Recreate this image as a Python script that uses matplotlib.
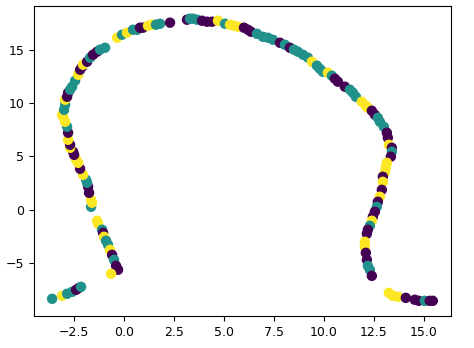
import matplotlib
matplotlib.use("Agg")
import matplotlib.pyplot as plt

# Points along the curve: x, y, class (0=purple, 1=teal, 2=yellow)
x = [
    -3.6, -3.1, -2.85, -2.6, -2.4, -2.25, -2.15,
    -1.35, -1.3, -1.1, -1.05, -1.0, -0.9, -0.8, -0.7, -0.6, -0.5, -0.4, -0.3, -0.65,
    -1.65, -1.6, -1.65, -1.75, -1.8, -1.85, -1.9, -2.05, -2.2, -2.3, -2.4, -2.5, -2.55,
    -2.7, -2.7, -2.8, -2.8, -2.85, -2.95, -3.05, -3.1, -3.0, -2.95, -2.95, -2.85, -2.8,
    -2.7, -2.6, -2.45, -2.3, -2.2, -2.1, -2.05, -1.85, -1.7, -1.55, -1.35, -1.2, -0.95,
    -0.35, -0.1, 0.15, 0.45, 0.65, 0.8, 0.95, 1.2, 1.4, 1.6, 1.8, 2.3,
    3.15, 3.3, 3.45, 3.65, 3.9, 4.15, 4.4, 4.7, 5.05, 5.3, 5.5, 5.7, 6.0, 6.2, 6.35,
    6.65, 6.95, 7.2, 7.45, 7.8, 8.05, 8.3, 8.5, 8.7, 8.95, 9.2, 9.4, 9.65, 9.8, 9.95,
    10.2, 10.4, 10.55, 10.7, 11.05, 11.3, 11.45, 11.6, 11.9, 12.1, 12.2, 12.4, 12.55,
    12.7, 12.8, 13.0, 13.15, 13.2, 13.25, 13.4, 13.4, 13.35, 13.15, 13.1, 13.05, 12.95,
    12.95, 12.9, 12.8, 12.7, 12.65, 12.55, 12.45, 12.4, 12.3, 12.2, 12.15, 12.05, 12.05,
    12.1, 12.15, 12.2, 12.3, 12.4,
    13.25, 13.45, 13.7, 14.1, 14.55, 14.75, 15.05, 15.3, 15.45,
]
y = [
    -8.34, -8.06, -7.87, -7.69, -7.5, -7.31, -7.22,
    -1.03, -1.31, -1.87, -2.16, -2.53, -2.9, -3.28, -3.75, -4.22, -4.69, -5.25, -5.62, -6.0,
    0.28, 0.66, 0.94, 1.59, 2.16, 2.53, 2.81, 3.28, 3.84, 4.4, 4.69, 5.15, 5.44,
    5.81, 6.09, 6.56, 7.22, 7.78, 8.25, 8.72, 8.9, 9.37, 9.84, 10.31, 10.59, 10.97,
    11.25, 11.53, 12.09, 12.65, 13.12, 13.4, 13.59, 13.87, 14.25, 14.53, 14.81, 15.0, 15.18,
    16.12, 16.4, 16.59, 16.87, 16.87, 17.06, 17.06, 17.24, 17.34, 17.34, 17.43, 17.53,
    17.81, 17.9, 17.9, 17.81, 17.71, 17.62, 17.62, 17.71, 17.43, 17.34, 17.24, 17.15, 17.06, 16.87, 16.68,
    16.49, 16.21, 16.12, 15.93, 15.65, 15.46, 15.18, 15.0, 14.81, 14.53, 14.25, 13.87, 13.5, 13.21, 12.93,
    12.84, 12.56, 12.28, 12.0, 11.53, 11.25, 10.97, 10.59, 10.12, 9.75, 9.56, 9.28, 8.9,
    8.62, 8.25, 7.78, 7.22, 6.75, 6.09, 5.81, 5.44, 4.97, 4.4, 3.94, 3.47, 3.09,
    2.62, 1.87, 1.22, 0.75, 0.28, -0.19, -0.66, -1.03, -1.5, -1.87, -2.25, -3.0, -3.47,
    -4.03, -4.69, -5.25, -5.62, -6.19,
    -7.78, -8.06, -8.15, -8.25, -8.43, -8.53, -8.53, -8.53, -8.53,
]
labels = [
    1, 2, 1, 1, 0, 0, 1,
    2, 2, 1, 0, 2, 1, 1, 2, 0, 1, 0, 0, 2,
    1, 2, 2, 0, 0, 1, 1, 2, 0, 2, 2, 0, 0,
    2, 0, 2, 0, 1, 2, 2, 2, 1, 1, 2, 0, 0,
    1, 1, 1, 2, 0, 0, 2, 0, 1, 0, 0, 1, 1,
    2, 1, 2, 1, 1, 0, 0, 2, 2, 1, 1, 0,
    0, 1, 1, 1, 0, 0, 0, 2, 1, 2, 2, 2, 0, 0, 0,
    1, 1, 1, 1, 0, 1, 0, 1, 1, 1, 1, 2, 1, 1, 1,
    2, 1, 0, 0, 0, 1, 1, 1, 2, 2, 2, 0, 0,
    1, 1, 1, 0, 0, 2, 0, 1, 0, 2, 2, 2, 0,
    2, 0, 2, 0, 1, 0, 0, 2, 1, 0, 0, 2, 2,
    0, 0, 1, 1, 0,
    2, 2, 2, 0, 0, 0, 1, 0, 0,
]

fig = plt.figure(figsize=(4.74, 3.48), dpi=100)
ax = fig.add_axes([0.072, 0.092, 0.879, 0.891])
ax.scatter(x, y, c=labels, cmap="viridis", s=42)
ax.set_xlim(-4.5, 16.35)
ax.set_ylim(-9.95, 19.1)
ax.set_xticks([-2.5, 0.0, 2.5, 5.0, 7.5, 10.0, 12.5, 15.0])
ax.set_yticks([-5, 0, 5, 10, 15])
ax.tick_params(labelsize=9)
fig.savefig("out.png", dpi=100)
